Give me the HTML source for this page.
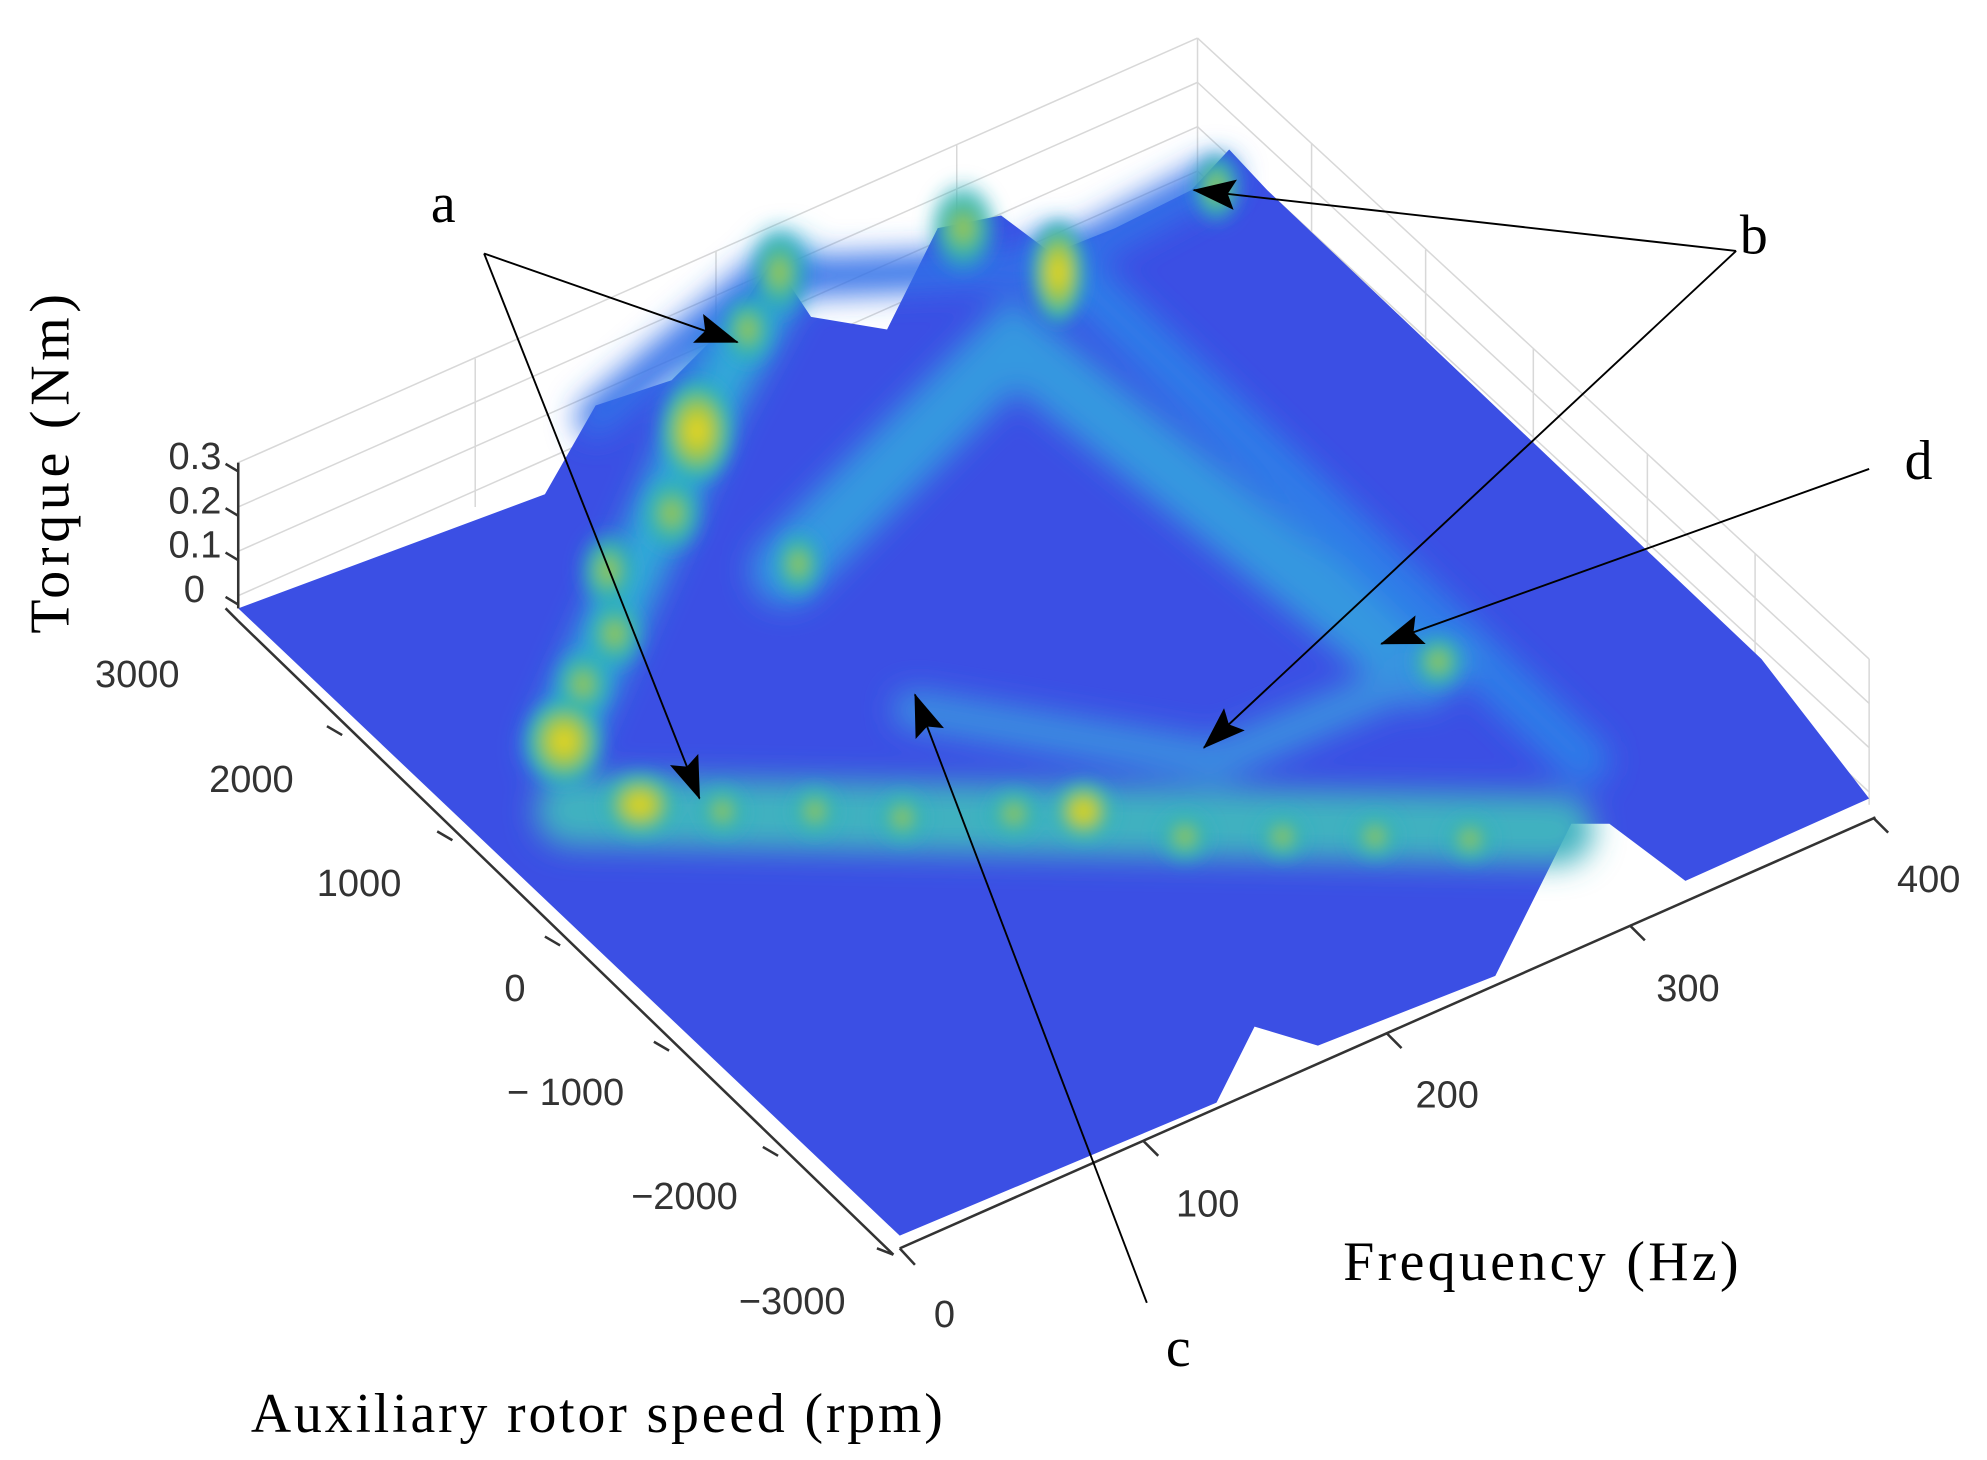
<!DOCTYPE html>
<html><head><style>
html,body{margin:0;padding:0;background:#fff;}
svg{display:block;}
.t{font-family:"Liberation Sans",sans-serif;font-size:30px;fill:#333;}
.s{font-family:"Liberation Serif",serif;font-size:44px;fill:#000;}
</style></head><body>
<svg width="1987" height="1460" viewBox="0 0 1568 1152" preserveAspectRatio="none" xmlns="http://www.w3.org/2000/svg">
<defs>
<filter id="b1" x="-50%" y="-50%" width="200%" height="200%"><feGaussianBlur stdDeviation="12"/></filter>
<filter id="b2" x="-50%" y="-50%" width="200%" height="200%"><feGaussianBlur stdDeviation="6"/></filter>
<radialGradient id="pk"><stop offset="0" stop-color="#f8d81c"/><stop offset="0.4" stop-color="#a8c83c"/><stop offset="0.75" stop-color="#30b8b0"/><stop offset="1" stop-color="#20a8d0" stop-opacity="0"/></radialGradient>
<radialGradient id="pk2"><stop offset="0" stop-color="#b0c83c"/><stop offset="0.5" stop-color="#38b8a8"/><stop offset="1" stop-color="#20a8d0" stop-opacity="0"/></radialGradient>
<marker id="ah" markerWidth="34" markerHeight="24" refX="33" refY="12" orient="auto" markerUnits="userSpaceOnUse" viewBox="0 0 34 24"><path d="M0,0 L34,12 L0,24 L6,12 z" fill="#000"/></marker>
</defs>
<g stroke="#d8d8d8" stroke-width="1.2" fill="none">
<line x1="188" y1="365" x2="945" y2="30"/><line x1="188" y1="400" x2="945" y2="65"/><line x1="188" y1="435" x2="945" y2="100"/><line x1="188" y1="470" x2="945" y2="135"/>
<line x1="375" y1="283" x2="375" y2="400"/><line x1="565" y1="198" x2="565" y2="320"/><line x1="755" y1="114" x2="755" y2="230"/><line x1="945" y1="30" x2="945" y2="150"/>
<line x1="945" y1="30" x2="1475" y2="520"/><line x1="945" y1="65" x2="1475" y2="555"/><line x1="945" y1="100" x2="1475" y2="590"/><line x1="945" y1="135" x2="1475" y2="625"/>
<line x1="1035" y1="113" x2="1035" y2="230"/><line x1="1125" y1="197" x2="1125" y2="310"/><line x1="1210" y1="275" x2="1210" y2="390"/><line x1="1300" y1="358" x2="1300" y2="470"/><line x1="1385" y1="437" x2="1385" y2="550"/><line x1="1475" y1="520" x2="1475" y2="635"/>
</g>
<polygon points="188,480 710,975 960,870 990,810 1040,825 1180,770 1240,650 1270,650 1330,695 1475,630 1390,520 1000,150 970,118 940,150 880,180 830,200 790,170 740,180 700,260 640,250 610,205 580,250 530,300 470,320 430,390" fill="#3b4fe4"/>
<g filter="url(#b1)" stroke-linecap="round" fill="none">
<polyline points="450,640 1230,655" stroke="#40b2c0" stroke-width="55"/>
<polyline points="440,590 560,320 620,210" stroke="#30a8d8" stroke-width="45"/>
<polyline points="620,450 800,270 1120,530" stroke="#3598e0" stroke-width="55"/>
<polyline points="830,200 1250,600" stroke="#2e7ce8" stroke-width="40"/>
<polyline points="720,560 960,600 1150,520" stroke="#3a90e0" stroke-width="30"/>
<polyline points="470,330 600,220 830,210 960,140" stroke="#3070e8" stroke-width="30"/>
</g>
<g filter="url(#b2)">
<ellipse cx="550" cy="340" rx="32" ry="45" fill="url(#pk)"/>
<ellipse cx="615" cy="215" rx="26" ry="40" fill="url(#pk2)"/>
<ellipse cx="760" cy="180" rx="30" ry="40" fill="url(#pk2)"/>
<ellipse cx="835" cy="215" rx="24" ry="45" fill="url(#pk)"/>
<ellipse cx="590" cy="260" rx="24" ry="32" fill="url(#pk2)"/>
<ellipse cx="530" cy="405" rx="28" ry="35" fill="url(#pk2)"/>
<ellipse cx="480" cy="450" rx="26" ry="35" fill="url(#pk2)"/>
<ellipse cx="485" cy="500" rx="26" ry="32" fill="url(#pk2)"/>
<ellipse cx="460" cy="540" rx="26" ry="32" fill="url(#pk2)"/>
<ellipse cx="445" cy="585" rx="34" ry="38" fill="url(#pk)"/>
<ellipse cx="630" cy="445" rx="22" ry="30" fill="url(#pk2)"/>
<ellipse cx="505" cy="635" rx="32" ry="28" fill="url(#pk)"/>
<ellipse cx="570" cy="640" rx="22" ry="24" fill="url(#pk2)"/>
<ellipse cx="643" cy="640" rx="22" ry="24" fill="url(#pk2)"/>
<ellipse cx="712" cy="645" rx="22" ry="24" fill="url(#pk2)"/>
<ellipse cx="800" cy="642" rx="24" ry="24" fill="url(#pk2)"/>
<ellipse cx="855" cy="640" rx="26" ry="26" fill="url(#pk)"/>
<ellipse cx="935" cy="660" rx="24" ry="24" fill="url(#pk2)"/>
<ellipse cx="1012" cy="660" rx="22" ry="22" fill="url(#pk2)"/>
<ellipse cx="1085" cy="660" rx="22" ry="22" fill="url(#pk2)"/>
<ellipse cx="1160" cy="662" rx="22" ry="22" fill="url(#pk2)"/>
<ellipse cx="1135" cy="522" rx="24" ry="26" fill="url(#pk2)"/>
<ellipse cx="960" cy="148" rx="22" ry="32" fill="url(#pk2)"/>
</g>
<g stroke="#333" stroke-width="2" fill="none">
<line x1="188" y1="365" x2="188" y2="480"/>
<line x1="188" y1="490" x2="705" y2="990"/>
<line x1="710" y1="985" x2="1480" y2="645"/>
<line x1="188" y1="372" x2="178" y2="366"/><line x1="188" y1="407" x2="178" y2="401"/><line x1="188" y1="442" x2="178" y2="436"/><line x1="188" y1="477" x2="178" y2="471"/>
<line x1="188" y1="490" x2="178" y2="480"/><line x1="258" y1="573" x2="270" y2="580"/><line x1="345" y1="656" x2="357" y2="663"/><line x1="430" y1="739" x2="442" y2="746"/><line x1="516" y1="822" x2="528" y2="829"/><line x1="602" y1="905" x2="614" y2="912"/><line x1="692" y1="985" x2="705" y2="990"/>
<line x1="710" y1="985" x2="722" y2="998"/><line x1="902" y1="900" x2="914" y2="912"/><line x1="1094" y1="815" x2="1106" y2="827"/><line x1="1286" y1="730" x2="1298" y2="742"/><line x1="1478" y1="645" x2="1490" y2="657"/>
</g>
<g class="t">
<text x="133" y="370">0.3</text><text x="133" y="405">0.2</text><text x="133" y="440">0.1</text><text x="145" y="475">0</text>
<text x="75" y="542">3000</text><text x="165" y="625">2000</text><text x="250" y="707">1000</text><text x="398" y="790">0</text><text x="400" y="872">− 1000</text><text x="498" y="954">−2000</text><text x="583" y="1037">−3000</text>
<text x="737" y="1047">0</text><text x="928" y="960">100</text><text x="1117" y="874">200</text><text x="1307" y="790">300</text><text x="1497" y="704">400</text>
</g>
<g class="s">
<text transform="translate(54,500) rotate(-90)" textLength="268">Torque (Nm)</text>
<text x="1060" y="1010" textLength="312">Frequency (Hz)</text>
<text x="198" y="1130" textLength="546">Auxiliary rotor speed (rpm)</text>
<text x="340" y="175">a</text><text x="1373" y="200">b</text><text x="920" y="1078">c</text><text x="1503" y="378">d</text>
</g>
<g stroke="#000" stroke-width="1.5" fill="none" marker-end="url(#ah)">
<line x1="382" y1="200" x2="582" y2="270"/>
<line x1="382" y1="200" x2="552" y2="630"/>
<line x1="1370" y1="198" x2="942" y2="150"/>
<line x1="1370" y1="198" x2="950" y2="590"/>
<line x1="905" y1="1028" x2="722" y2="548"/>
<line x1="1475" y1="370" x2="1090" y2="508"/>
</g>
</svg>
</body></html>
